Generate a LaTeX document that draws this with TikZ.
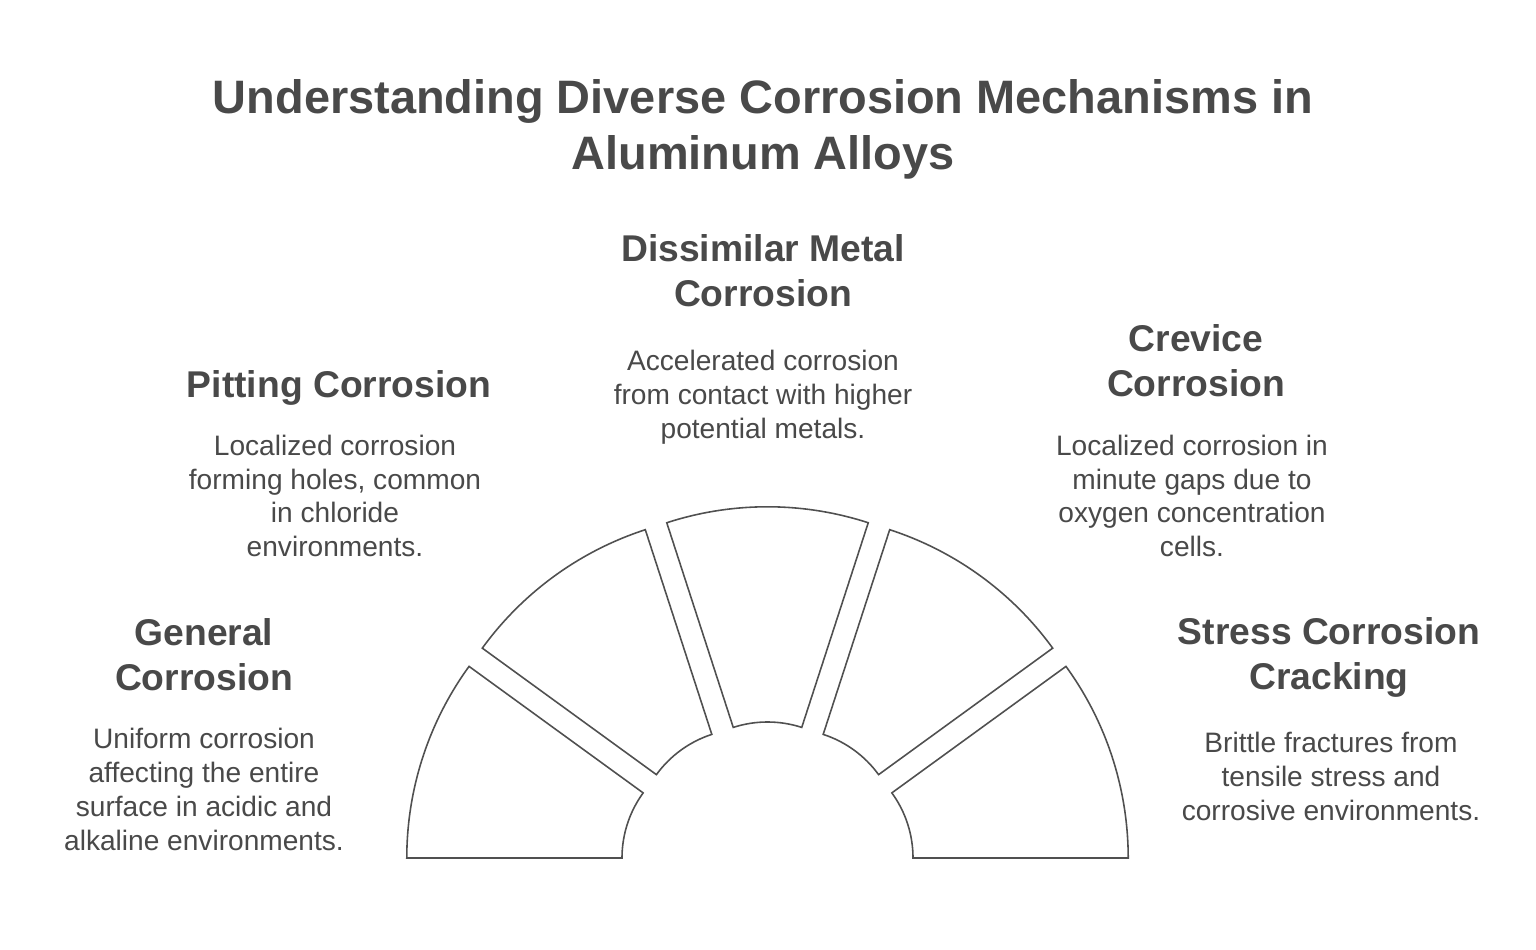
\documentclass[tikz,border=0pt]{standalone}
\usepackage{fontspec}
\setmainfont{Liberation Sans}
\newcommand*{\titlefont}{\fontsize{26.7}{31.8}\selectfont\bfseries}
\newcommand*{\headfont}{\fontsize{21.2}{25.6}\selectfont\bfseries}
\newcommand*{\bodyfont}{\fontsize{16}{19.3}\selectfont}
\definecolor{ink}{HTML}{494949}
\definecolor{rim}{HTML}{505050}
\usepackage{tikz}
\tikzstyle{base}=[x=0.02cm, y=0.02cm, inner sep=0pt, outer sep=0pt]
\tikzstyle{head}=[ink, align=center, font=\headfont]
\tikzstyle{body}=[ink, align=center, font=\bodyfont]
\tikzstyle{segment}=[rim, line width=0.9pt, fill=white]

\begin{document}
\begin{tikzpicture}[base]
    \fill [white] (0,0) rectangle (1536,950);
    \path [use as bounding box] (0,0) rectangle (1536,950);
    \node [ink, align=center, font=\titlefont] (title) at (763,821)
        {Understanding Diverse Corrosion Mechanisms in\\Aluminum Alloys};
    % fan of five sectors, each pushed out along its middle
    \foreach \lo/\hi/\mid in {144/180/162, 108/144/126, 72/108/90, 36/72/54, 0/36/18} {
        \begin{scope}[shift={(767.5,80.7)}, shift={(\mid:36.5)}]
            \draw [segment] (\lo:326) arc [start angle=\lo, end angle=\hi, radius=326]
                -- (\hi:110.8) arc [start angle=\hi, end angle=\lo, radius=110.8] -- cycle;
        \end{scope}
    }
    \node [head] (general) at (204,295.5) {General\\Corrosion};
    \node [body] (generaltext) at (204,160.5)
        {Uniform corrosion\\affecting the entire\\surface in acidic and\\alkaline environments.};
    \node [head] (pitting) at (339,562.5) {Pitting Corrosion};
    \node [body] (pittingtext) at (335,454)
        {Localized corrosion\\forming holes, common\\in chloride\\environments.};
    \node [head] (dissimilar) at (763,679.5) {Dissimilar Metal\\Corrosion};
    \node [body] (dissimilartext) at (763,553)
        {Accelerated corrosion\\from contact with higher\\potential metals.};
    \node [head] (crevice) at (1196,589.5) {Crevice\\Corrosion};
    \node [body] (crevicetext) at (1192,454)
        {Localized corrosion in\\minute gaps due to\\oxygen concentration\\cells.};
    \node [head] (stress) at (1329,293) {Stress Corrosion\\Cracking};
    \node [body] (stresstext) at (1331,173.5)
        {Brittle fractures from\\tensile stress and\\corrosive environments.};
\end{tikzpicture}
\end{document}
